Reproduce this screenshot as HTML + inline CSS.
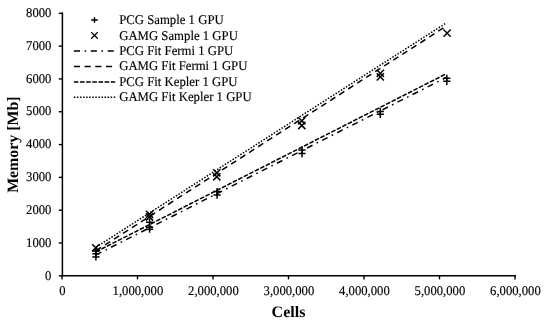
<!DOCTYPE html>
<html><head><meta charset="utf-8"><style>
html,body{margin:0;padding:0;background:#fff;width:550px;height:324px;overflow:hidden}
svg{display:block} text{text-rendering:geometricPrecision}
</style></head><body>
<svg width="550" height="324" viewBox="0 0 550 324">
<rect width="550" height="324" fill="#fff"/>
<g stroke="#000" fill="none">
<line x1="62.4" y1="12.6" x2="62.4" y2="276.6" stroke-width="1.5"/>
<line x1="61.5" y1="275.8" x2="516" y2="275.8" stroke-width="1.6"/>
<line x1="58.8" y1="275.80" x2="62.4" y2="275.80" stroke-width="1.4"/>
<line x1="58.8" y1="242.99" x2="62.4" y2="242.99" stroke-width="1.4"/>
<line x1="58.8" y1="210.18" x2="62.4" y2="210.18" stroke-width="1.4"/>
<line x1="58.8" y1="177.37" x2="62.4" y2="177.37" stroke-width="1.4"/>
<line x1="58.8" y1="144.56" x2="62.4" y2="144.56" stroke-width="1.4"/>
<line x1="58.8" y1="111.75" x2="62.4" y2="111.75" stroke-width="1.4"/>
<line x1="58.8" y1="78.94" x2="62.4" y2="78.94" stroke-width="1.4"/>
<line x1="58.8" y1="46.13" x2="62.4" y2="46.13" stroke-width="1.4"/>
<line x1="58.8" y1="13.32" x2="62.4" y2="13.32" stroke-width="1.4"/>
<line x1="62.00" y1="275.8" x2="62.00" y2="279.4" stroke-width="1.4"/>
<line x1="137.50" y1="275.8" x2="137.50" y2="279.4" stroke-width="1.4"/>
<line x1="213.00" y1="275.8" x2="213.00" y2="279.4" stroke-width="1.4"/>
<line x1="288.50" y1="275.8" x2="288.50" y2="279.4" stroke-width="1.4"/>
<line x1="364.00" y1="275.8" x2="364.00" y2="279.4" stroke-width="1.4"/>
<line x1="439.50" y1="275.8" x2="439.50" y2="279.4" stroke-width="1.4"/>
<line x1="515.00" y1="275.8" x2="515.00" y2="279.4" stroke-width="1.4"/>
</g>
<g font-family="Liberation Serif, serif" font-size="12.67" fill="#000" stroke="#000" stroke-width="0.15">
<text transform="translate(51.40,279.50) scale(1,1.05)" text-anchor="end">0</text>
<text transform="translate(51.40,246.69) scale(1,1.05)" text-anchor="end">1000</text>
<text transform="translate(51.40,213.88) scale(1,1.05)" text-anchor="end">2000</text>
<text transform="translate(51.40,181.07) scale(1,1.05)" text-anchor="end">3000</text>
<text transform="translate(51.40,148.26) scale(1,1.05)" text-anchor="end">4000</text>
<text transform="translate(51.40,115.45) scale(1,1.05)" text-anchor="end">5000</text>
<text transform="translate(51.40,82.64) scale(1,1.05)" text-anchor="end">6000</text>
<text transform="translate(51.40,49.83) scale(1,1.05)" text-anchor="end">7000</text>
<text transform="translate(51.40,17.02) scale(1,1.05)" text-anchor="end">8000</text>
<text transform="translate(62.40,294.55) scale(1,1.05)" text-anchor="middle">0</text>
<text transform="translate(137.90,294.55) scale(1,1.05)" text-anchor="middle">1,000,000</text>
<text transform="translate(213.40,294.55) scale(1,1.05)" text-anchor="middle">2,000,000</text>
<text transform="translate(288.90,294.55) scale(1,1.05)" text-anchor="middle">3,000,000</text>
<text transform="translate(364.40,294.55) scale(1,1.05)" text-anchor="middle">4,000,000</text>
<text transform="translate(439.90,294.55) scale(1,1.05)" text-anchor="middle">5,000,000</text>
<text transform="translate(515.40,294.55) scale(1,1.05)" text-anchor="middle">6,000,000</text>
</g>
<text x="288.5" y="317.2" text-anchor="middle" font-family="Liberation Serif, serif" font-weight="bold" font-size="16">Cells</text>
<text transform="translate(18.2,144.7) rotate(-90)" text-anchor="middle" font-family="Liberation Serif, serif" font-weight="bold" font-size="15.85">Memory [Mb]</text>
<g font-family="Liberation Serif, serif" font-size="12.76" fill="#000" stroke="#000" stroke-width="0.15">
<text transform="translate(119.20,24.20) scale(1,1.05)" text-anchor="start">PCG Sample 1 GPU</text>
<text transform="translate(119.20,39.80) scale(1,1.05)" text-anchor="start">GAMG Sample 1 GPU</text>
<text transform="translate(119.20,54.80) scale(1,1.05)" text-anchor="start">PCG Fit Fermi 1 GPU</text>
<text transform="translate(119.20,70.10) scale(1,1.05)" text-anchor="start">GAMG Fit Fermi 1 GPU</text>
<text transform="translate(119.20,85.70) scale(1,1.05)" text-anchor="start">PCG Fit Kepler 1 GPU</text>
<text transform="translate(119.20,101.10) scale(1,1.05)" text-anchor="start">GAMG Fit Kepler 1 GPU</text>
</g>
<path d="M91.20 20.00H97.80M94.50 17.20V22.80" stroke="#000" stroke-width="1.5" fill="none"/>
<path d="M91.20 32.10L97.80 38.70M91.20 38.70L97.80 32.10" stroke="#000" stroke-width="1.3" fill="none"/>
<line x1="73.9" y1="51.1" x2="115.2" y2="51.1" stroke="#000" stroke-width="1.5" stroke-dasharray="6.1 4.6 1.6 4.6"/>
<line x1="73.9" y1="66.4" x2="115.2" y2="66.4" stroke="#000" stroke-width="1.5" stroke-dasharray="6.1 4.6"/>
<line x1="73.9" y1="82.1" x2="115.2" y2="82.1" stroke="#000" stroke-width="1.5" stroke-dasharray="4.6 1.54"/>
<line x1="73.9" y1="97.3" x2="115.2" y2="97.3" stroke="#000" stroke-width="1.5" stroke-dasharray="1.5 1.56"/>
<line x1="96.0" y1="247.2" x2="446.0" y2="23.1" stroke="#000" stroke-width="1.5" stroke-dasharray="1.5 1.56"/>
<line x1="96.0" y1="250.7" x2="446.0" y2="26.3" stroke="#000" stroke-width="1.5" stroke-dasharray="6.1 4.6"/>
<line x1="96.0" y1="251.8" x2="446.0" y2="73.9" stroke="#000" stroke-width="1.5" stroke-dasharray="4.6 1.54"/>
<line x1="96.0" y1="254.9" x2="446.0" y2="77.6" stroke="#000" stroke-width="1.5" stroke-dasharray="6.1 4.6 1.6 4.6"/>
<path d="M92.30 251.00H99.50M95.90 247.40V254.60" stroke="#000" stroke-width="1.5" fill="none"/>
<path d="M92.30 253.80H99.50M95.90 250.20V257.40" stroke="#000" stroke-width="1.5" fill="none"/>
<path d="M92.30 256.90H99.50M95.90 253.30V260.50" stroke="#000" stroke-width="1.5" fill="none"/>
<path d="M146.00 222.20H153.20M149.60 218.60V225.80" stroke="#000" stroke-width="1.5" fill="none"/>
<path d="M146.00 227.20H153.20M149.60 223.60V230.80" stroke="#000" stroke-width="1.5" fill="none"/>
<path d="M146.00 229.20H153.20M149.60 225.60V232.80" stroke="#000" stroke-width="1.5" fill="none"/>
<path d="M213.50 191.60H220.70M217.10 188.00V195.20" stroke="#000" stroke-width="1.5" fill="none"/>
<path d="M213.50 195.10H220.70M217.10 191.50V198.70" stroke="#000" stroke-width="1.5" fill="none"/>
<path d="M298.40 150.10H305.60M302.00 146.50V153.70" stroke="#000" stroke-width="1.5" fill="none"/>
<path d="M298.40 153.60H305.60M302.00 150.00V157.20" stroke="#000" stroke-width="1.5" fill="none"/>
<path d="M376.70 111.40H383.90M380.30 107.80V115.00" stroke="#000" stroke-width="1.5" fill="none"/>
<path d="M376.70 114.30H383.90M380.30 110.70V117.90" stroke="#000" stroke-width="1.5" fill="none"/>
<path d="M443.20 78.30H450.40M446.80 74.70V81.90" stroke="#000" stroke-width="1.5" fill="none"/>
<path d="M443.20 81.30H450.40M446.80 77.70V84.90" stroke="#000" stroke-width="1.5" fill="none"/>
<path d="M92.20 244.20L99.40 251.40M92.20 251.40L99.40 244.20" stroke="#000" stroke-width="1.5" fill="none"/>
<path d="M145.90 210.70L153.10 217.90M145.90 217.90L153.10 210.70" stroke="#000" stroke-width="1.5" fill="none"/>
<path d="M145.90 213.40L153.10 220.60M145.90 220.60L153.10 213.40" stroke="#000" stroke-width="1.5" fill="none"/>
<path d="M213.20 169.20L220.40 176.40M213.20 176.40L220.40 169.20" stroke="#000" stroke-width="1.5" fill="none"/>
<path d="M213.20 173.20L220.40 180.40M213.20 180.40L220.40 173.20" stroke="#000" stroke-width="1.5" fill="none"/>
<path d="M298.20 117.20L305.40 124.40M298.20 124.40L305.40 117.20" stroke="#000" stroke-width="1.5" fill="none"/>
<path d="M298.20 121.90L305.40 129.10M298.20 129.10L305.40 121.90" stroke="#000" stroke-width="1.5" fill="none"/>
<path d="M376.70 69.70L383.90 76.90M376.70 76.90L383.90 69.70" stroke="#000" stroke-width="1.5" fill="none"/>
<path d="M376.70 73.30L383.90 80.50M376.70 80.50L383.90 73.30" stroke="#000" stroke-width="1.5" fill="none"/>
<path d="M443.50 29.50L450.70 36.70M443.50 36.70L450.70 29.50" stroke="#000" stroke-width="1.5" fill="none"/>
</svg>
</body></html>
